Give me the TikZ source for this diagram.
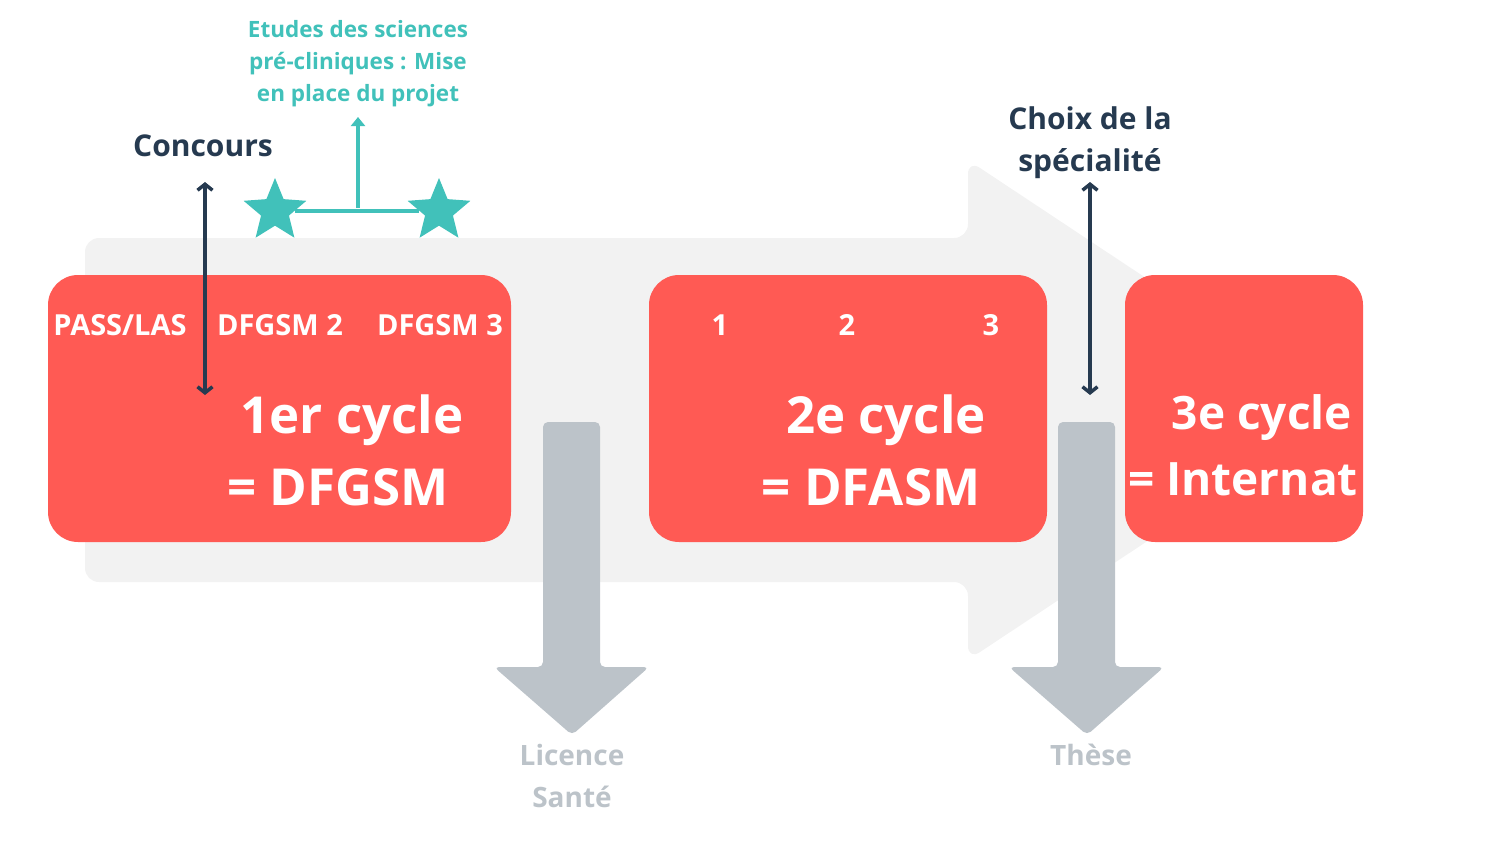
\documentclass[tikz,border=0pt]{standalone}
\usepackage{fontspec}
\setmainfont{Open Sans}
\usepackage{tikz}
\usetikzlibrary{positioning,arrows.meta,calc,shapes.geometric}

\definecolor{cyclered}{HTML}{FF5A54}
\definecolor{teal}{HTML}{41C1BA}
\definecolor{navy}{HTML}{263A50}
\definecolor{greyarrow}{HTML}{BCC3C9}
\definecolor{bgarrow}{HTML}{F2F2F2}

\begin{document}
\begin{tikzpicture}[
    x=1pt, y=-1pt,
    cyclebox/.style={fill=cyclered, rounded corners=30pt, minimum height=267pt},
    yearlbl/.style={text=white, font=\bfseries\fontsize{29}{34}\selectfont, anchor=base},
    cyclelbl/.style={text=white, font=\bfseries\fontsize{51}{60}\selectfont, anchor=base},
    note/.style={text=navy, font=\bfseries\fontsize{30}{42}\selectfont, align=center},
    exitlbl/.style={text=greyarrow, font=\bfseries\fontsize{28}{42}\selectfont, align=center},
    duo/.style={{Straight Barb[length=6pt,width=15pt]}-{Straight Barb[length=6pt,width=15pt]}, navy, line width=3.5pt, line cap=round},
    starmark/.style={star, star points=5, star point ratio=2.25, fill=teal, minimum size=66pt, inner sep=0pt}
]
\useasboundingbox (0,0) rectangle (1500,844);

% background arrow
\fill[bgarrow, rounded corners=14pt] (85,238) -- (968,238) -- (968,160) -- (1345,410)
    -- (968,660) -- (968,582) -- (85,582) -- cycle;

% cycles
\node[cyclebox, minimum width=463pt] (cycle1) at (279.5,408.5) {};
\node[cyclebox, minimum width=398pt] (cycle2) at (848,408.5) {};
\node[cyclebox, minimum width=238pt] (cycle3) at (1244,408.5) {};

\node[yearlbl] (pass) at (120,335) {PASS/LAS};
\node[yearlbl] (dfgsm2) at (280,335) {DFGSM 2};
\node[yearlbl] (dfgsm3) at (440,335) {DFGSM 3};
\node[cyclelbl] (c1a) at (352,433) {1er cycle};
\node[cyclelbl] (c1b) at (338,505) {= DFGSM};

\node[yearlbl] (y1) at (720,335) {1};
\node[yearlbl] (y2) at (847,335) {2};
\node[yearlbl] (y3) at (991,335) {3};
\node[cyclelbl] (c2a) at (886,433) {2e cycle};
\node[cyclelbl] (c2b) at (871,505) {= DFASM};

\node[cyclelbl, font=\bfseries\fontsize{46}{54}\selectfont] (c3a) at (1262,429) {3e cycle};
\node[cyclelbl, font=\bfseries\fontsize{46}{54}\selectfont] (c3b) at (1243,495) {= Internat};

% exits
\fill[greyarrow, rounded corners=5pt] (543,422) -- (600,422) -- (600,667) -- (649,667)
    -- (572,735) -- (494,667) -- (543,667) -- cycle;
\fill[greyarrow, rounded corners=5pt] (1058,422) -- (1115,422) -- (1115,667) -- (1164,667)
    -- (1087,735) -- (1009,667) -- (1058,667) -- cycle;
\node[exitlbl] (licence) at (572,776) {Licence\\Santé};
\node[exitlbl] (these) at (1091,755) {Thèse};

% concours
\node[note] (concours) at (203,146) {Concours};
\coordinate (concourstop) at (205,182);
\coordinate (concoursbot) at (205,395);
\draw[duo] (concourstop) -- (concoursbot);

% specialite
\node[note] (choix) at (1090,143) {Choix de la\\spécialité};
\coordinate (choixtop) at (1090,182);
\coordinate (choixbot) at (1090,395);
\draw[duo] (choixtop) -- (choixbot);

% pre-cliniques
\node[starmark] (star1) at (275,211) {};
\node[starmark] (star2) at (439,211) {};
\draw[teal, line width=4pt] (star1) -- (star2);
\coordinate (mid) at (358,208);
\node[text=teal, font=\bfseries\fontsize{22.5}{32}\selectfont, align=center] (etudes) at (358,64)
    {Etudes des sciences\\pré-cliniques : Mise\\en place du projet};
\coordinate (etudesbot) at (358,117);
\draw[teal, line width=4pt, -{Triangle[length=9pt,width=14pt]}] (mid) -- (etudesbot);
\end{tikzpicture}
\end{document}
